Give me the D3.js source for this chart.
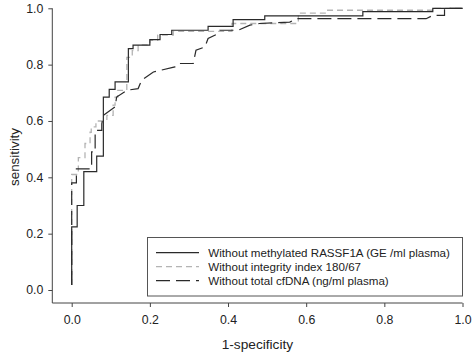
<!DOCTYPE html>
<html><head><meta charset="utf-8">
<script src="https://cdn.jsdelivr.net/npm/d3@7"></script>
<style>body{margin:0;background:#fff}svg{display:block;font-family:"Liberation Sans",Arial,sans-serif}</style>
</head><body><svg id="c" width="474" height="354"></svg>
<script>
// ROC vertices (1-specificity, sensitivity)
const rassfFpr = [0,0,0.014,0.014,0.031,0.031,0.064,0.064,0.081,0.081,0.096,0.096,0.111,0.111,0.145,0.145,0.157,0.157,0.2,0.2,0.226,0.226,0.256,0.256,0.349,0.349,0.413,0.413,0.494,0.494,0.745,0.745,0.924,0.924,1];
const rassfSens = [0.018,0.224,0.224,0.30,0.30,0.42,0.42,0.475,0.475,0.685,0.685,0.712,0.712,0.739,0.739,0.857,0.857,0.869,0.869,0.889,0.889,0.907,0.907,0.922,0.922,0.936,0.936,0.960,0.960,0.973,0.973,0.988,0.988,1,1];

const integrityFpr = [0,0,0.017,0.017,0.034,0.034,0.047,0.047,0.05,0.05,0.062,0.062,0.09,0.09,0.106,0.106,0.111,0.111,0.118,0.118,0.141,0.141,0.155,0.155,0.17,0.17,0.2,0.2,0.22,0.22,0.26,0.26,0.41,0.41,0.58,0.58,0.653,0.653,0.93,0.93,1];
const integritySens = [0.018,0.41,0.41,0.47,0.47,0.52,0.52,0.56,0.56,0.579,0.579,0.60,0.60,0.62,0.62,0.656,0.656,0.685,0.685,0.709,0.709,0.826,0.826,0.85,0.85,0.87,0.87,0.886,0.886,0.905,0.905,0.918,0.918,0.946,0.946,0.983,0.983,0.993,0.993,1,1];

const cfdnaFpr = [0,0,0.012,0.012,0.051,0.051,0.06,0.06,0.077,0.077,0.081,0.111,0.115,0.141,0.17,0.179,0.209,0.264,0.272,0.311,0.318,0.341,0.349,0.375,0.379,0.426,0.456,0.481,0.558,0.575,0.907,0.924,0.954,0.954,1];
const cfdnaSens = [0.018,0.38,0.38,0.43,0.43,0.49,0.49,0.567,0.567,0.59,0.62,0.65,0.685,0.709,0.715,0.745,0.774,0.792,0.804,0.804,0.851,0.863,0.893,0.91,0.922,0.922,0.94,0.946,0.951,0.963,0.963,0.975,0.975,1,1];

const seriesNames = ["Without methylated RASSF1A (GE /ml plasma)","Without integrity index 180/67","Without total cfDNA (ng/ml plasma)"];
const ticks = [0,0.2,0.4,0.6,0.8,1.0];

const svg = d3.select("#c");
const x = d3.scaleLinear().domain([0,1]).range([71.7,462.5]);
const y = d3.scaleLinear().domain([0,1]).range([290,8.3]);
const axisY0 = 303, axisX0 = 52.3;
const ink = "#222";

// axes
const gx = svg.append("g").attr("transform",`translate(0,${axisY0})`)
  .call(d3.axisBottom(x).tickValues(ticks).tickFormat(d3.format(".1f")).tickSize(4).tickSizeOuter(0).tickPadding(8));
gx.select(".domain").remove();
gx.selectAll("text").attr("font-size",12.3).attr("fill",ink).attr("font-family","Liberation Sans, Arial, sans-serif");
gx.selectAll("line").attr("stroke","#444");
const gy = svg.append("g").attr("transform",`translate(${axisX0},0)`)
  .call(d3.axisLeft(y).tickValues(ticks).tickFormat(d3.format(".1f")).tickSize(4).tickSizeOuter(0).tickPadding(5));
gy.select(".domain").remove();
gy.selectAll("text").attr("font-size",12.3).attr("fill",ink).attr("font-family","Liberation Sans, Arial, sans-serif");
gy.selectAll("line").attr("stroke","#444");
// L-shaped frame
svg.append("path").attr("d",`M${axisX0},${y(1)}V${axisY0}H${x(1)}`).attr("fill","none").attr("stroke","#444").attr("stroke-width",1);

// titles
svg.append("text").attr("x",(axisX0+x(1))/2).attr("y",349).attr("text-anchor","middle")
  .attr("font-size",13.7).attr("fill",ink).text("1-specificity");
svg.append("text").attr("transform","translate(19,157) rotate(-90)").attr("text-anchor","middle")
  .attr("font-size",13.4).attr("fill",ink).text("sensitivity");

const line = d3.line().x(d=>x(d[0])).y(d=>y(d[1]));
const styles = [
  {stroke:"#2a2a2a", dash:null, w:1.2},
  {stroke:"#b4b4b4", dash:"6,4", w:1.3},
  {stroke:"#2a2a2a", dash:"14,6", w:1.2}
];
const data = [
  d3.zip(rassfFpr, rassfSens),
  d3.zip(integrityFpr, integritySens),
  d3.zip(cfdnaFpr, cfdnaSens)
];
const order = [1,2,0];
order.forEach(i=>{
  svg.append("path").datum(data[i]).attr("d",line).attr("fill","none")
    .attr("stroke",styles[i].stroke).attr("stroke-width",styles[i].w)
    .attr("stroke-dasharray",styles[i].dash);
});

// legend
const lg = svg.append("g");
lg.append("rect").attr("x",147.5).attr("y",237.5).attr("width",315).attr("height",58.5)
  .attr("fill","#fff").attr("stroke","#555").attr("stroke-width",1);
seriesNames.forEach((n,i)=>{
  const cy = 252.7 + i*14;
  lg.append("line").attr("x1",156).attr("x2",199).attr("y1",cy).attr("y2",cy)
    .attr("stroke",styles[i].stroke).attr("stroke-width",styles[i].w).attr("stroke-dasharray",styles[i].dash);
  lg.append("text").attr("x",208.3).attr("y",cy+4).attr("font-size",11.6).attr("fill",ink).text(n);
});
</script></body></html>
